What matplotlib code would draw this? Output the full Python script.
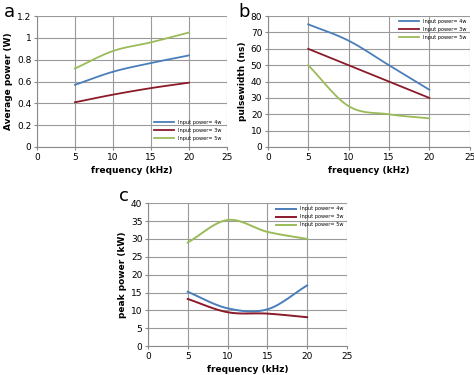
import matplotlib.pyplot as plt
import numpy as np

freq = [5, 10, 15, 20]

# panel a: average power (W)
avg_4w = [0.57, 0.69, 0.77, 0.84]
avg_3w = [0.41, 0.48, 0.54, 0.59]
avg_5w = [0.72, 0.88, 0.96, 1.05]

# panel b: pulse width (ns)
pw_4w = [75, 65, 50, 35]
pw_3w = [60, 50, 40, 30]
pw_5w = [50, 25, 20, 17.5]

# panel c: peak power (kW)
pk_4w = [15.2, 10.6, 10.3, 17.0]
pk_3w = [13.2, 9.5, 9.1, 8.1]
pk_5w = [29.0, 35.3, 32.0, 30.0]

labels = ['Input power= 4w', 'Input power= 3w', 'Input power= 5w']
colors = ['#4a7ebb', '#8b1a2a', '#9bbb59']


def smooth(x, y, n=40):
    # catmull-rom like excel's smoothed line
    x = np.asarray(x, float)
    y = np.asarray(y, float)
    px = np.concatenate([[2 * x[0] - x[1]], x, [2 * x[-1] - x[-2]]])
    py = np.concatenate([[2 * y[0] - y[1]], y, [2 * y[-1] - y[-2]]])
    xs, ys = [], []
    t = np.linspace(0, 1, n)
    for i in range(1, len(px) - 2):
        for p, out in ((px, xs), (py, ys)):
            p0, p1, p2, p3 = p[i - 1:i + 3]
            out.extend(0.5 * ((2 * p1) + (-p0 + p2) * t
                              + (2 * p0 - 5 * p1 + 4 * p2 - p3) * t ** 2
                              + (-p0 + 3 * p1 - 3 * p2 + p3) * t ** 3))
    return xs, ys


def style(ax, ylim, yticks, yfmt, ylabel):
    ax.set_xlim(0, 25)
    ax.set_ylim(*ylim)
    ax.set_xticks([0, 5, 10, 15, 20, 25])
    ax.set_yticks(yticks)
    ax.set_yticklabels([yfmt(v) for v in yticks])
    ax.grid(True, color='#9a9a9a', linewidth=0.8)
    ax.set_axisbelow(True)
    for s in ('top', 'right'):
        ax.spines[s].set_visible(False)
    for s in ('left', 'bottom'):
        ax.spines[s].set_color('#8a8a8a')
    ax.tick_params(labelsize=6.5, length=2, color='#8a8a8a', pad=2)
    ax.set_xlabel('frequency (kHz)', fontsize=6.5, fontweight='bold', labelpad=3)
    ax.set_ylabel(ylabel, fontsize=6.5, fontweight='bold', labelpad=3)


fig = plt.figure(figsize=(4.74, 3.75), dpi=100)

ax_a = fig.add_axes([0.078, 0.608, 0.401, 0.349])
for ys, c, l in zip((avg_4w, avg_3w, avg_5w), colors, labels):
    ax_a.plot(*smooth(freq, ys), color=c, lw=1.3, label=l)
style(ax_a, (0, 1.2), [0, 0.2, 0.4, 0.6, 0.8, 1.0, 1.2],
      lambda v: '0' if v == 0 else ('1' if v == 1 else f'{v:g}'), 'Average power (W)')
ax_a.legend(loc='lower right', fontsize=3.6, frameon=False, handlelength=4,
            labelspacing=0.6, borderaxespad=0.8)

ax_b = fig.add_axes([0.565, 0.608, 0.426, 0.349])
for ys, c, l in zip((pw_4w, pw_3w, pw_5w), colors, labels):
    ax_b.plot(*smooth(freq, ys), color=c, lw=1.3, label=l)
style(ax_b, (0, 80), list(range(0, 81, 10)), lambda v: f'{v}', 'pulsewidth (ns)')
ax_b.legend(loc='upper right', fontsize=3.6, frameon=False, handlelength=4,
            labelspacing=0.6, borderaxespad=0.2)

ax_c = fig.add_axes([0.312, 0.077, 0.420, 0.381])
for ys, c, l in zip((pk_4w, pk_3w, pk_5w), colors, labels):
    ax_c.plot(*smooth(freq, ys), color=c, lw=1.4, label=l)
style(ax_c, (0, 40), list(range(0, 41, 5)), lambda v: f'{v}', 'peak power (kW)')
ax_c.legend(loc='upper right', fontsize=3.6, frameon=False, handlelength=4,
            labelspacing=0.6, borderaxespad=0.2)

fig.text(0.008, 0.955, 'a', fontsize=13)
fig.text(0.503, 0.955, 'b', fontsize=13)
fig.text(0.25, 0.465, 'c', fontsize=13)

fig.savefig('out.png', dpi=100)
